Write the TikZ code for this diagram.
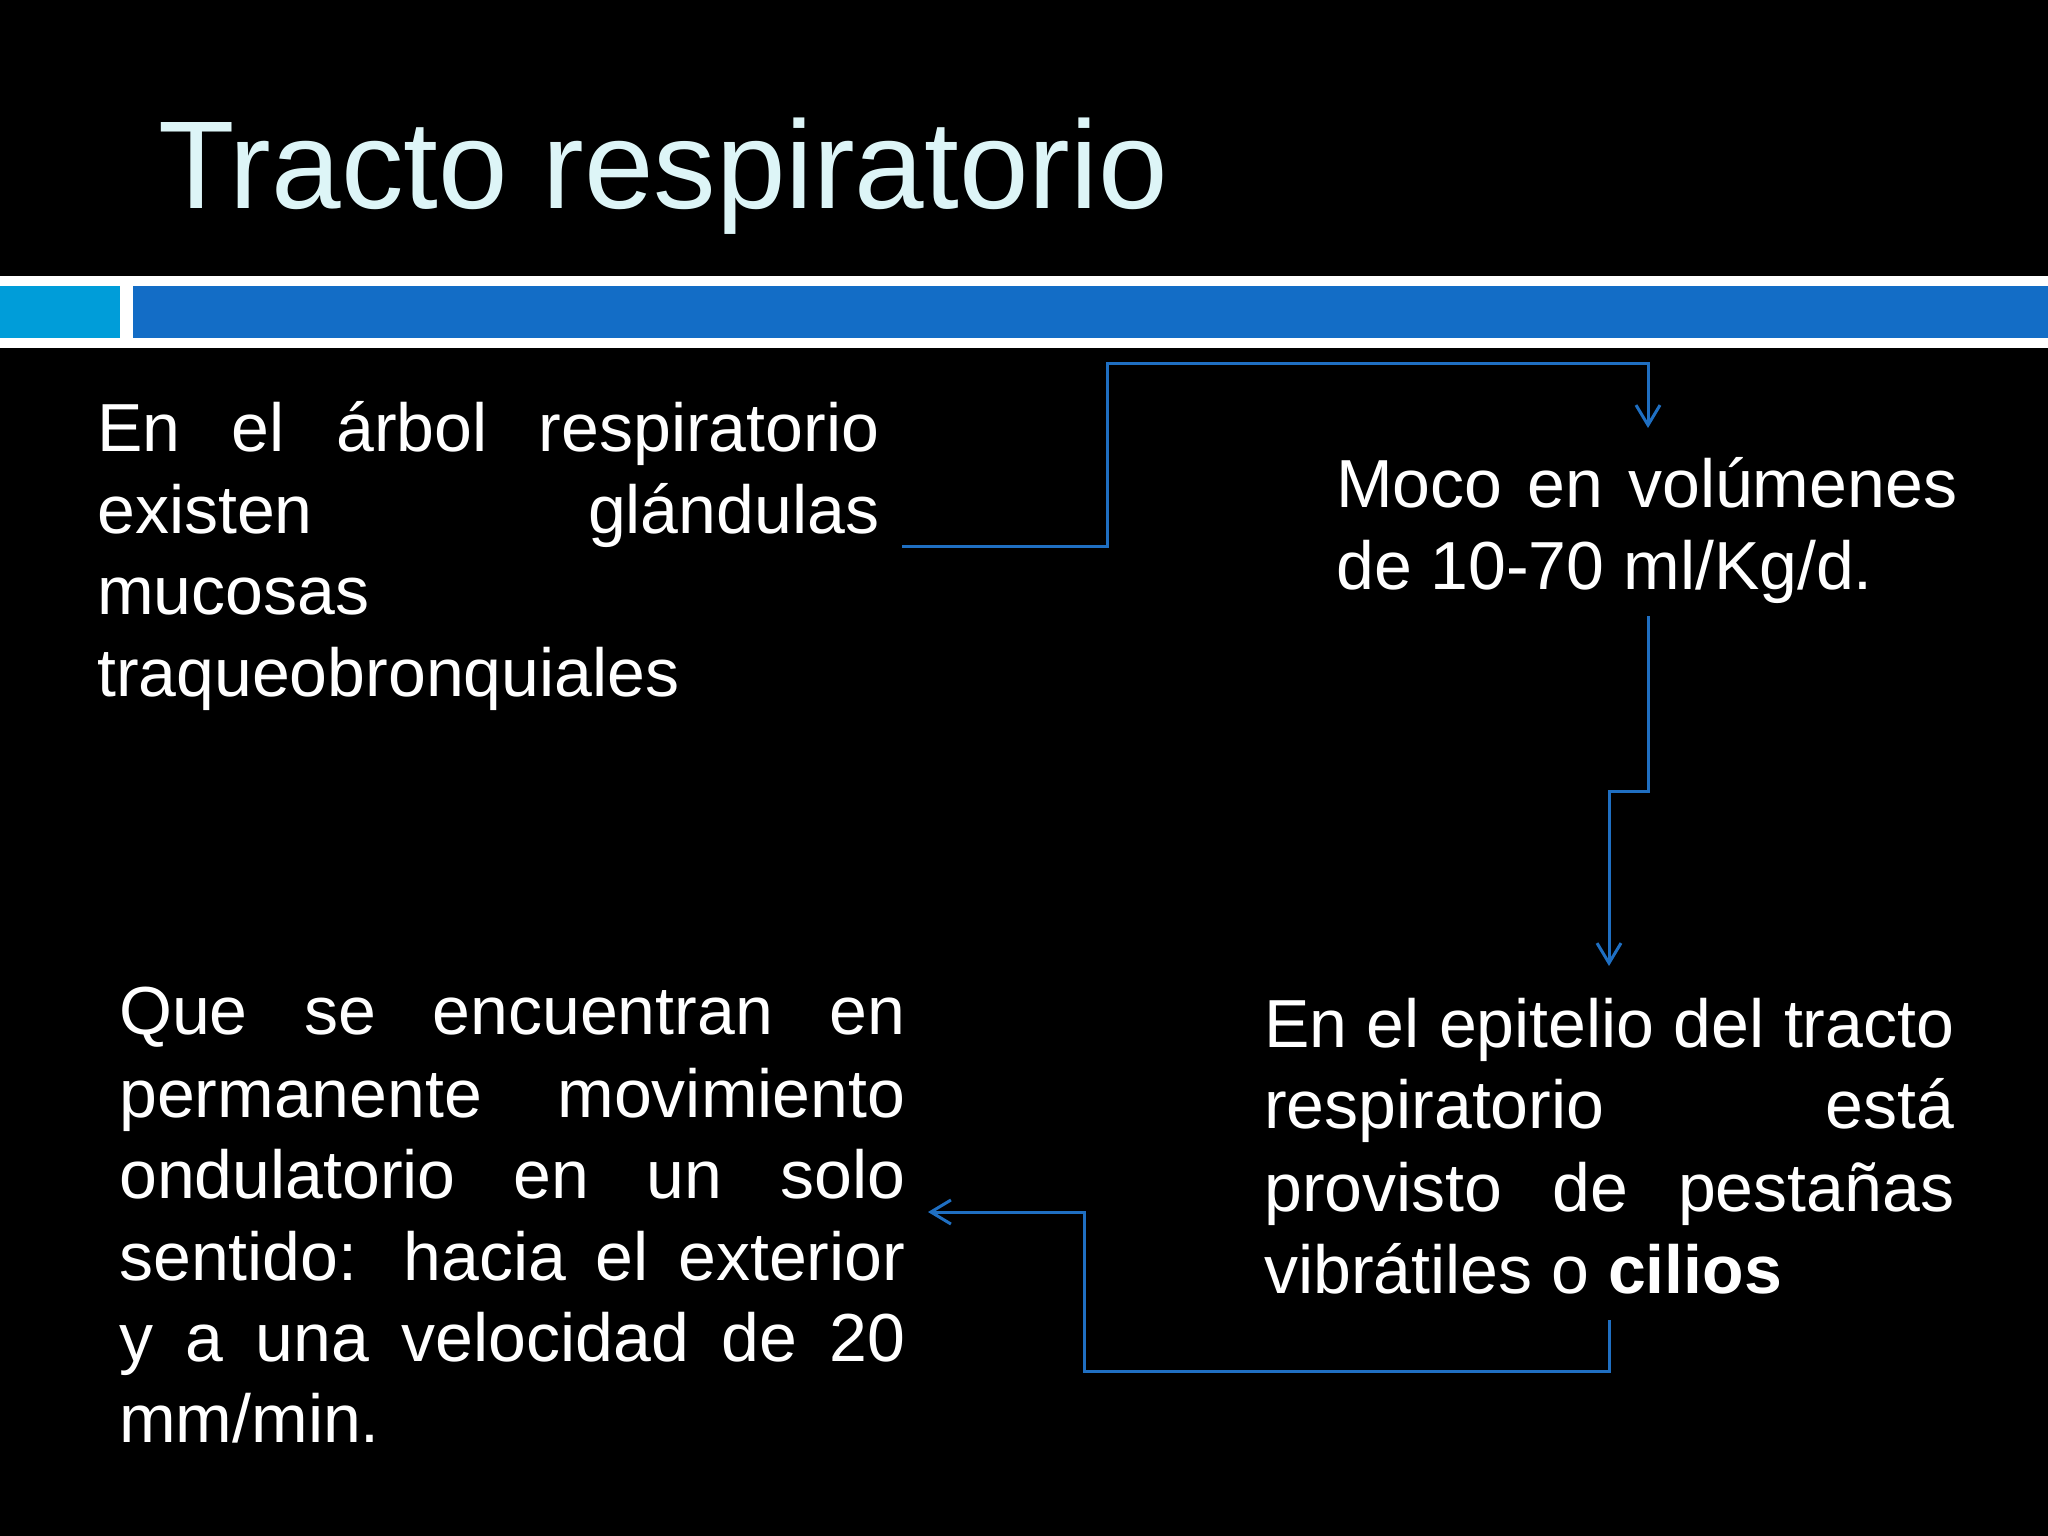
\documentclass[tikz,border=0pt]{standalone}
\usepackage{fontspec}
\setmainfont{Liberation Sans}
\usetikzlibrary{arrows.meta}
\definecolor{titlecol}{RGB}{221,245,247}
\definecolor{lightbar}{RGB}{0,157,217}
\definecolor{darkbar}{RGB}{19,109,198}
\definecolor{conncol}{RGB}{31,111,194}
\newcommand{\jl}[2]{\makebox[#1pt][s]{#2}}
\begin{document}
\begin{tikzpicture}[x=1pt,y=-1pt,
  body/.style={anchor=base west, inner sep=0pt, text=white, font=\fontsize{68}{82}\selectfont},
  titlestyle/.style={anchor=base west, inner sep=0pt, text=titlecol, font=\fontsize{125}{150}\selectfont},
  conn/.style={draw=conncol, line width=3pt},
  arr/.style={-{Straight Barb[length=20pt,width=24pt]}}]
\fill[black] (0,0) rectangle (2048,1536);
\useasboundingbox (0,0) rectangle (2048,1536);
% title
\node[titlestyle] (title) at (158,208) {Tracto respiratorio};
% header band
\fill[white] (0,276) rectangle (2048,348);
\fill[lightbar] (0,286) rectangle (120,338);
\fill[darkbar] (133,286) rectangle (2048,338);
% top-left block
\node[body] (tl1) at (97,451) {\jl{782}{En el árbol respiratorio}};
\node[body] (tl2) at (97,533) {\jl{782}{existen glándulas}};
\node[body] (tl3) at (97,614) {mucosas};
\node[body] (tl4) at (97,696) {traqueobronquiales};
% top-right block
\node[body] (tr1) at (1336,507) {\jl{621}{Moco en volúmenes}};
\node[body] (tr2) at (1336,589) {de 10-70 ml/Kg/d.};
% bottom-right block
\node[body] (br1) at (1264,1047) {\jl{690}{En el epitelio del tracto}};
\node[body] (br2) at (1264,1128) {\jl{690}{respiratorio está}};
\node[body] (br3) at (1264,1211) {\jl{690}{provisto de pestañas}};
\node[body] (br4) at (1264,1293) {vibrátiles o \textbf{cilios}};
% bottom-left block
\node[body] (bl1) at (119,1034) {\jl{786}{Que se encuentran en}};
\node[body] (bl2) at (119,1117) {\jl{786}{permanente movimiento}};
\node[body] (bl3) at (119,1198) {\jl{786}{ondulatorio en un solo}};
\node[body] (bl4) at (119,1280) {\jl{786}{sentido: hacia el exterior}};
\node[body] (bl5) at (119,1361) {\jl{786}{y a una velocidad de 20}};
\node[body] (bl6) at (119,1442) {mm/min.};
% connector end points
\coordinate (c1s) at (902,546);
\coordinate (c1e) at (1648,428);
\coordinate (c2s) at (1648,616);
\coordinate (c2e) at (1609,966);
\coordinate (c3s) at (1609,1320);
\coordinate (c3e) at (928,1212);
% connectors
\draw[conn,arr] (c1s) -- (1107,546) -- (1107,363) -| (c1e);
\draw[conn,arr] (c2s) -- (1648,791) -| (c2e);
\draw[conn,arr] (c3s) |- (1084,1371) |- (c3e);
\end{tikzpicture}
\end{document}
